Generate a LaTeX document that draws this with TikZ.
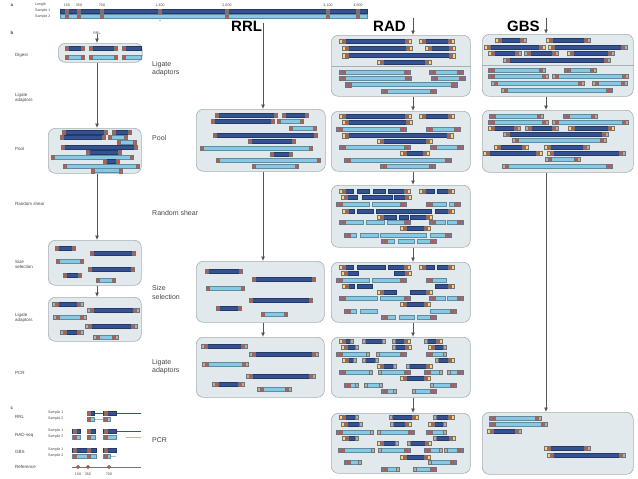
\documentclass[tikz,border=0pt]{standalone}
\usepackage{fontspec}
\setmainfont{Liberation Sans}
\usetikzlibrary{arrows.meta}
\definecolor{db}{RGB}{52,82,145}
\definecolor{lb}{RGB}{135,200,228}
\definecolor{rd}{RGB}{200,88,68}
\definecolor{ye}{RGB}{248,215,110}
\definecolor{pu}{RGB}{140,105,170}
\definecolor{gy}{RGB}{175,175,175}
\definecolor{boxf}{RGB}{226,233,237}
\definecolor{boxd}{RGB}{165,175,180}
\definecolor{arrc}{RGB}{85,85,85}
\definecolor{txt}{RGB}{70,70,70}
\tikzset{
  capbox/.style={draw=black!55,line width=0.3pt},
  box/.style={draw=boxd,fill=boxf,rounded corners=7pt,line width=0.6pt,inner sep=0pt,anchor=north west},
  arr/.style={draw=arrc,line width=0.8pt,-{Latex[length=4.5pt,width=4pt]}},
  lab/.style={font=\fontsize{7}{8.2}\selectfont,text=txt,anchor=west,align=left,inner sep=0pt},
  sml/.style={font=\fontsize{4.5}{5.2}\selectfont,text=txt,anchor=west,align=left,inner sep=0pt},
  tny/.style={font=\fontsize{3.6}{4}\selectfont,text=txt,inner sep=0pt},
  hdr/.style={font=\fontsize{15}{16}\bfseries\selectfont,inner sep=0pt}
}
% one cap square
\newcommand{\cp}[3]{\filldraw[capbox,fill=#1] (#2,#3-2.2) rectangle ++(3,4.4);}
% end types: n none, r red, y yellow+red, p purple+red, g grey+red, G grey only
\newcommand{\fLn}[2]{}
\newcommand{\fRn}[2]{}
\newcommand{\fLr}[2]{\cp{rd}{#1}{#2}}
\newcommand{\fRr}[2]{\cp{rd}{#1-3}{#2}}
\newcommand{\fLy}[2]{\cp{ye}{#1}{#2}\cp{rd}{#1+3}{#2}}
\newcommand{\fRy}[2]{\cp{rd}{#1-6}{#2}\cp{ye}{#1-3}{#2}}
\newcommand{\fLp}[2]{\cp{pu}{#1}{#2}\cp{rd}{#1+3}{#2}}
\newcommand{\fRp}[2]{\cp{rd}{#1-6}{#2}\cp{pu}{#1-3}{#2}}
\newcommand{\fLg}[2]{\cp{gy}{#1}{#2}\cp{rd}{#1+3}{#2}}
\newcommand{\fRg}[2]{\cp{rd}{#1-6}{#2}\cp{gy}{#1-3}{#2}}
\newcommand{\fLG}[2]{\cp{gy}{#1}{#2}}
\newcommand{\fRG}[2]{\cp{gy}{#1-3}{#2}}
% fragment: x1 x2 y colour leftend rightend
\newcommand{\fg}[6]{%
  \filldraw[fill=#4,draw=#4!70!black,line width=0.3pt] (#1,#3-1.9) rectangle (#2,#3+1.9);
  \csname fL#5\endcsname{#1}{#3}\csname fR#6\endcsname{#2}{#3}}
\newcommand{\mk}[2]{\filldraw[capbox,fill=rd] (#1-1.5,#2-1.8) rectangle ++(3,3.6);}
\begin{document}
\begin{tikzpicture}[x=1pt,y=-1pt]
\useasboundingbox (0,0) rectangle (638,479);
\fill[white] (0,0) rectangle (638,479);

%%%%%%%% panel a
\node[tny,font=\fontsize{4.5}{5}\bfseries\selectfont] (pa) at (12,5) {a};
\node[tny,anchor=west] (len) at (35,5) {Length};
\node[tny,anchor=west] (sa1) at (35,11) {Sample 1};
\node[tny,anchor=west] (sa2) at (35,16.5) {Sample 2};
\foreach \xx/\lbl in {67/150,79/350,102/700,160/{1,300},227/{2,000},328/{3,100},358/{3,500}}{
  \node[tny] at (\xx,5) {\lbl};}
\fg{60}{367}{11}{db}{n}{n}
\fg{60}{367}{16.5}{lb}{n}{n}
\foreach \xx in {67,79,102,160,227,328,358}{\mk{\xx}{11}}
\foreach \xx in {67,79,102,227,328,358}{\mk{\xx}{16.5}}
\draw[gy,line width=0.5pt] (159,21) -- (160,20) -- (161,21);

%%%%%%%% panel b left column
\node[tny,font=\fontsize{4.5}{5}\bfseries\selectfont] (pb) at (12,33) {b};
\node[tny] (lrrl) at (97,33) {RRL};
\node[box,minimum width=84pt,minimum height=19pt] (l1) at (58,43) {};
\node[box,minimum width=93pt,minimum height=45pt] (l2) at (48,128) {};
\node[box,minimum width=93pt,minimum height=45pt] (l3) at (48,240) {};
\node[box,minimum width=93pt,minimum height=44pt] (l4) at (48,297) {};
\coordinate (lx) at (97,0);
\draw[arr] (lrrl.south) -- (l1.north -| lx);
\draw[arr] (l1.south -| lx) -- (l2.north -| lx);
\draw[arr] (l2.south -| lx) -- (l3.north -| lx);
\draw[arr] (l3.south -| lx) -- (l4.north -| lx);

\node[sml] (t1) at (15,55) {Digest};
\node[sml] (t2) at (15,98) {Ligate\\adaptors};
\node[sml] (t3) at (15,149) {Pool};
\node[sml] (t4) at (15,204) {Random shear};
\node[sml] (t5) at (15,264.5) {Size\\selection};
\node[sml] (t6) at (15,318) {Ligate\\adaptors};
\node[sml] (t7) at (15,373) {PCR};

% digest
\fg{65}{84}{48}{db}{r}{r}\fg{89}{117}{48}{db}{r}{r}\fg{122}{141}{48}{db}{r}{n}
\fg{65}{84}{57}{lb}{r}{r}\fg{89}{117}{57}{lb}{r}{r}\fg{122}{141}{57}{lb}{r}{n}
% pool
\fg{62}{107}{132}{db}{r}{r}\fg{112}{131}{132}{db}{r}{r}
\fg{60}{105}{137}{db}{r}{r}\fg{108}{127}{137}{lb}{r}{r}
\fg{117}{136}{142.5}{lb}{r}{r}
\fg{61}{137}{147}{db}{r}{r}
\fg{86}{121}{152}{db}{r}{r}
\fg{51}{133}{157}{lb}{r}{r}
\fg{103}{119}{161.5}{db}{r}{r}
\fg{63}{139}{166}{lb}{r}{r}
\fg{91}{122}{170.5}{lb}{r}{r}
% size selection
\fg{55}{75}{248}{db}{r}{r}
\fg{90}{135}{253}{db}{r}{r}
\fg{56}{83}{261}{lb}{r}{r}
\fg{88}{134}{269}{db}{r}{r}
\fg{63}{81}{275}{db}{r}{r}
\fg{96}{115}{280}{lb}{r}{r}
% ligate
\fg{52}{83}{304}{db}{g}{g}
\fg{87}{139}{310}{db}{g}{g}
\fg{53}{86}{317}{lb}{g}{g}
\fg{85}{137}{326}{db}{g}{g}
\fg{60}{83}{332}{db}{g}{g}
\fg{93}{118}{337}{lb}{g}{g}

%%%%%%%% panel c
\node[tny,font=\fontsize{4.5}{5}\bfseries\selectfont] (pc) at (12,408) {c};
\node[sml] (c1) at (15,417) {RRL};
\node[sml] (c2) at (15,435) {RAD-seq};
\node[sml] (c3) at (15,452) {GBS};
\node[sml] (c4) at (15,467) {Reference};
\foreach \yy in {413,431,450}{\node[tny,anchor=west] at (48,\yy) {Sample 1};}
\foreach \yy in {419,437,456}{\node[tny,anchor=west] at (48,\yy) {Sample 2};}
% RRL
\draw[db,line width=0.8pt] (87,413) -- (141,413);
\fg{87}{94}{413}{db}{n}{n}\fg{103}{116}{413}{db}{n}{n}\mk{89}{413}\mk{106}{413}
\draw[lb,line width=0.8pt] (87,419) -- (110,419);
\fg{87}{94}{419}{lb}{n}{n}\fg{103}{110}{419}{lb}{n}{n}\mk{89}{419}\mk{106}{419}
% RAD
\draw[db,line width=0.8pt] (103,431) -- (141,431);
\fg{72}{80}{431}{db}{n}{n}\fg{87}{95}{431}{db}{n}{n}\fg{103}{116}{431}{db}{n}{n}
\mk{75}{431}\mk{89}{431}\mk{106}{431}
\fg{72}{80}{437}{lb}{n}{n}\fg{87}{95}{437}{lb}{n}{n}\fg{103}{116}{437}{lb}{n}{n}
\mk{75}{437}\mk{89}{437}\mk{106}{437}
\draw[lb,line width=0.8pt] (126,437) -- (141,437);
% GBS
\fg{72}{96}{450}{db}{n}{n}\fg{103}{116}{450}{db}{n}{n}\mk{75}{450}\mk{89}{450}\mk{106}{450}
\draw[lb,line width=0.8pt] (103,456) -- (116,456);
\fg{72}{96}{456}{lb}{n}{n}\fg{103}{110}{456}{lb}{n}{n}\mk{75}{456}\mk{89}{456}\mk{106}{456}
% reference
\draw[black!55,line width=0.8pt] (72,467) -- (141,467);
\foreach \xx/\lbl in {78/150,88/350,109/700}{
  \filldraw[capbox,fill=rd] (\xx,467) circle (1.8);
  \node[tny] at (\xx,474) {\lbl};}

%%%%%%%% middle labels
\node[lab] (m1) at (152,69) {Ligate\\adaptors};
\node[lab] (m2) at (152,138) {Pool};
\node[lab] (m3) at (152,213) {Random shear};
\node[lab] (m4) at (152,292.5) {Size\\selection};
\node[lab] (m5) at (152,366.5) {Ligate\\adaptors};
\node[lab] (m6) at (152,440) {PCR};

%%%%%%%% RRL column
\node[hdr,anchor=west] (hrrl) at (231,26) {RRL};
\coordinate (rx) at (263,23);
\node[box,minimum width=129pt,minimum height=62pt] (r1) at (196,109) {};
\node[box,minimum width=128pt,minimum height=61pt] (r2) at (196,261) {};
\node[box,minimum width=128pt,minimum height=60pt] (r3) at (196,337) {};
\draw[arr] (rx) -- (r1.north -| rx);
\draw[arr] (r1.south -| rx) -- (r2.north -| rx);
\draw[arr] (r2.south -| rx) -- (r3.north -| rx);
% pool
\fg{215}{277}{115}{db}{r}{r}\fg{282}{308}{115}{db}{r}{r}
\fg{211}{274}{121}{db}{r}{r}\fg{277}{303}{121}{lb}{r}{r}
\fg{289}{316}{128}{lb}{r}{r}
\fg{213}{317}{135}{db}{r}{r}
\fg{248}{295}{141}{db}{r}{r}
\fg{200}{312}{148}{lb}{r}{r}
\fg{270}{292}{154}{db}{r}{r}
\fg{216}{320}{160}{lb}{r}{r}
\fg{252}{298}{166}{lb}{r}{r}
% size selection
\fg{205}{242}{271}{db}{r}{r}
\fg{252}{315}{279}{db}{r}{r}
\fg{206}{244}{288}{lb}{r}{r}
\fg{249}{312}{300}{db}{r}{r}
\fg{216}{241}{308}{db}{r}{r}
\fg{261}{287}{314}{lb}{r}{r}
% ligate
\fg{201}{247}{346}{db}{g}{g}
\fg{249}{318}{354}{db}{g}{g}
\fg{202}{248}{364}{lb}{g}{g}
\fg{246}{315}{376}{db}{g}{g}
\fg{212}{244}{384}{db}{g}{g}
\fg{257}{291}{389}{lb}{g}{g}

%%%%%%%% RAD column
\node[hdr,anchor=west] (hrad) at (373,26) {RAD};
\coordinate (ax) at (413,18);
\node[box,minimum width=139pt,minimum height=61pt] (a1) at (331,35) {};
\node[box,minimum width=139pt,minimum height=60pt] (a2) at (331,111) {};
\node[box,minimum width=139pt,minimum height=62pt] (a3) at (331,185) {};
\node[box,minimum width=139pt,minimum height=60pt] (a4) at (331,262) {};
\node[box,minimum width=139pt,minimum height=60pt] (a5) at (331,337) {};
\node[box,minimum width=139pt,minimum height=60pt] (a6) at (331,413) {};
\draw[boxd,line width=0.6pt] (a1.west |- 0,66) -- (a1.east |- 0,66);
\draw[arr] (ax) -- (a1.north -| ax);
\draw[arr] (a1.south -| ax) -- (a2.north -| ax);
\draw[arr] (a2.south -| ax) -- (a3.north -| ax);
\draw[arr] (a3.south -| ax) -- (a4.north -| ax);
\draw[arr] (a4.south -| ax) -- (a5.north -| ax);
\draw[arr] (a5.south -| ax) -- (a6.north -| ax);
% digest + ligate
\fg{339}{411}{41}{db}{y}{y}\fg{419}{454}{41}{db}{y}{y}
\fg{342}{412}{48}{db}{y}{y}\fg{425}{455}{48}{db}{y}{y}
\fg{342}{455}{55.5}{db}{y}{y}
\fg{377}{431}{62}{db}{y}{y}
\fg{339}{410}{72}{lb}{p}{p}\fg{429}{463}{72}{lb}{p}{p}
\fg{339}{411}{78}{lb}{p}{p}\fg{431}{465}{78}{lb}{p}{p}
\fg{345}{457}{84.5}{lb}{p}{p}
\fg{381}{436}{91}{lb}{p}{p}
% pool
\fg{339}{411}{116}{db}{y}{y}\fg{419}{454}{116}{db}{y}{y}
\fg{342}{412}{122}{db}{y}{y}
\fg{336}{406}{129}{lb}{p}{p}\fg{426}{460}{129}{lb}{p}{p}
\fg{342}{453}{135.5}{db}{y}{y}
\fg{377}{432}{141}{db}{y}{y}
\fg{339}{410}{147}{lb}{p}{p}\fg{430}{463}{147}{lb}{p}{p}
\fg{400}{429}{153}{db}{y}{y}
\fg{344}{451}{160}{lb}{p}{p}
\fg{380}{435}{166}{lb}{p}{p}
% random shear
\fg{339}{353}{191}{db}{y}{n}\fg{357}{369}{191}{db}{n}{n}\fg{373}{385}{191}{db}{n}{n}\fg{388}{410}{191}{db}{n}{y}\fg{419}{434}{191}{db}{y}{n}\fg{437}{454}{191}{db}{n}{y}
\fg{341}{357}{197}{db}{y}{n}\fg{362}{392}{197}{db}{n}{n}\fg{394}{411}{197}{db}{n}{y}
\fg{336}{369}{204}{lb}{p}{n}\fg{372}{406}{204}{lb}{n}{p}\fg{426}{446}{204}{lb}{p}{n}\fg{449}{460}{204}{lb}{n}{p}
\fg{342}{354}{211}{db}{y}{n}\fg{357}{373}{211}{db}{n}{n}\fg{376}{431}{211}{db}{n}{n}\fg{435}{454}{211}{db}{n}{y}
\fg{377}{396}{217}{db}{y}{n}\fg{399}{408}{217}{db}{n}{n}\fg{410}{432}{217}{db}{n}{y}
\fg{339}{363}{222}{lb}{p}{n}\fg{366}{384}{222}{lb}{n}{n}\fg{387}{410}{222}{lb}{n}{p}\fg{429}{445}{222}{lb}{p}{n}\fg{447}{463}{222}{lb}{n}{p}
\fg{400}{430}{228}{db}{y}{y}
\fg{344}{356}{235}{lb}{p}{n}\fg{360}{378}{235}{lb}{n}{n}\fg{380}{426}{235}{lb}{n}{n}\fg{430}{451}{235}{lb}{n}{p}
\fg{381}{394}{241}{lb}{p}{n}\fg{398}{414}{241}{lb}{n}{n}\fg{417}{436}{241}{lb}{n}{p}
% size selection
\fg{339}{353}{267}{db}{y}{n}\fg{357}{385}{267}{db}{n}{n}\fg{388}{410}{267}{db}{n}{y}\fg{419}{434}{267}{db}{y}{n}\fg{437}{454}{267}{db}{n}{y}
\fg{341}{358}{273}{db}{y}{n}\fg{394}{411}{273}{db}{n}{y}
\fg{336}{369}{280}{lb}{p}{n}\fg{372}{406}{280}{lb}{n}{p}\fg{426}{446}{280}{lb}{p}{n}
\fg{342}{354}{286}{db}{y}{n}\fg{357}{372}{286}{db}{n}{n}\fg{435}{454}{286}{db}{n}{y}
\fg{377}{396}{292}{db}{y}{n}\fg{410}{432}{292}{db}{n}{y}
\fg{339}{377}{298}{lb}{p}{n}\fg{380}{410}{298}{lb}{n}{p}\fg{429}{445}{298}{lb}{p}{n}\fg{447}{463}{298}{lb}{n}{p}
\fg{400}{430}{304}{db}{y}{y}
\fg{344}{356}{311}{lb}{p}{n}\fg{360}{377}{311}{lb}{n}{n}\fg{430}{456}{311}{lb}{n}{p}
\fg{381}{395}{317}{lb}{p}{n}\fg{399}{414}{317}{lb}{n}{n}\fg{417}{436}{317}{lb}{n}{p}
% ligate adaptors
\fg{339}{353}{341}{db}{y}{G}\fg{362}{385}{341}{db}{G}{G}\fg{392}{410}{341}{db}{G}{y}\fg{424}{442}{341}{db}{G}{y}
\fg{341}{358}{347}{db}{y}{G}\fg{392}{411}{347}{db}{G}{y}\fg{428}{446}{347}{db}{y}{G}
\fg{336}{369}{354}{lb}{p}{G}\fg{376}{406}{354}{lb}{G}{p}\fg{426}{446}{354}{lb}{p}{G}
\fg{342}{356}{360}{db}{y}{G}\fg{362}{378}{360}{db}{G}{G}\fg{435}{454}{360}{db}{G}{y}
\fg{377}{396}{366}{db}{y}{G}\fg{406}{432}{366}{db}{G}{y}
\fg{339}{372}{372}{lb}{p}{G}\fg{378}{410}{372}{lb}{G}{p}\fg{424}{442}{372}{lb}{p}{G}\fg{447}{463}{372}{lb}{G}{p}
\fg{400}{430}{378}{db}{y}{y}
\fg{344}{358}{385}{lb}{p}{G}\fg{364}{382}{385}{lb}{G}{G}\fg{430}{456}{385}{lb}{G}{p}
\fg{381}{396}{391}{lb}{p}{G}\fg{412}{436}{391}{lb}{G}{p}
% PCR
\fg{339}{358}{417}{db}{y}{G}\fg{389}{418}{417}{db}{G}{y}\fg{433}{454}{417}{db}{G}{y}
\fg{341}{362}{424}{db}{y}{G}\fg{390}{411}{424}{db}{G}{y}\fg{428}{446}{424}{db}{y}{G}
\fg{336}{373}{432}{lb}{p}{G}\fg{377}{414}{432}{lb}{G}{p}\fg{426}{446}{432}{lb}{p}{G}
\fg{342}{358}{438}{db}{y}{G}\fg{433}{455}{438}{db}{G}{y}
\fg{377}{398}{443}{db}{y}{G}\fg{407}{431}{443}{db}{G}{y}
\fg{338}{374}{450}{lb}{p}{G}\fg{378}{410}{450}{lb}{G}{p}\fg{424}{442}{450}{lb}{p}{G}\fg{444}{463}{450}{lb}{G}{p}
\fg{400}{430}{457}{db}{y}{y}
\fg{344}{361}{462}{lb}{p}{G}\fg{428}{456}{462}{lb}{G}{p}
\fg{381}{399}{469}{lb}{p}{G}\fg{413}{436}{469}{lb}{G}{p}

%%%%%%%% GBS column
\node[hdr,anchor=west] (hgbs) at (507,26) {GBS};
\coordinate (gx) at (546,18);
\node[box,minimum width=151pt,minimum height=62pt] (g1) at (482,34) {};
\node[box,minimum width=151pt,minimum height=62pt] (g2) at (482,110) {};
\node[box,minimum width=151pt,minimum height=62pt] (g3) at (482,412) {};
\draw[boxd,line width=0.6pt] (g1.west |- 0,65) -- (g1.east |- 0,65);
\draw[arr] (gx) -- (g1.north -| gx);
\draw[arr] (g1.south -| gx) -- (g2.north -| gx);
\draw[arr] (g2.south -| gx) -- (g3.north -| gx);
% digest+ligate
\fg{495}{526}{40}{db}{y}{g}\fg{546}{590}{40}{db}{y}{g}
\fg{484}{545}{47}{db}{y}{y}\fg{548}{627}{47}{db}{y}{g}
\fg{488}{521}{53}{db}{y}{g}\fg{524}{558}{53}{db}{g}{g}\fg{567}{614}{53}{db}{y}{g}
\fg{503}{610}{60}{db}{g}{g}
\fg{488}{545}{70}{lb}{p}{g}\fg{564}{596}{70}{lb}{p}{g}
\fg{488}{548}{76}{lb}{p}{g}\fg{552}{628}{76}{lb}{g}{g}
\fg{491}{584}{83}{lb}{g}{g}\fg{592}{627}{83}{lb}{g}{g}
\fg{501}{612}{90}{lb}{g}{p}
% pool
\fg{489}{543}{116}{lb}{p}{g}\fg{563}{597}{116}{lb}{p}{g}
\fg{488}{548}{122}{lb}{p}{g}\fg{552}{628}{122}{lb}{g}{g}
\fg{488}{520}{128}{db}{y}{g}\fg{525}{558}{128}{db}{g}{g}\fg{568}{614}{128}{db}{y}{y}
\fg{503}{608}{134}{db}{g}{g}
\fg{512}{606}{140}{lb}{g}{g}
\fg{494}{528}{147}{db}{y}{y}\fg{544}{589}{147}{db}{y}{g}
\fg{483}{542}{153}{db}{y}{y}\fg{547}{625}{153}{db}{y}{g}
\fg{545}{580}{159}{lb}{g}{g}
\fg{502}{612}{166}{lb}{g}{p}
% PCR
\fg{489}{541}{418}{lb}{p}{g}
\fg{489}{547}{424}{lb}{p}{g}
\fg{487}{521}{431}{db}{y}{g}
\fg{544}{590}{448}{db}{y}{g}
\fg{547}{625}{455}{db}{y}{g}
\end{tikzpicture}
\end{document}
